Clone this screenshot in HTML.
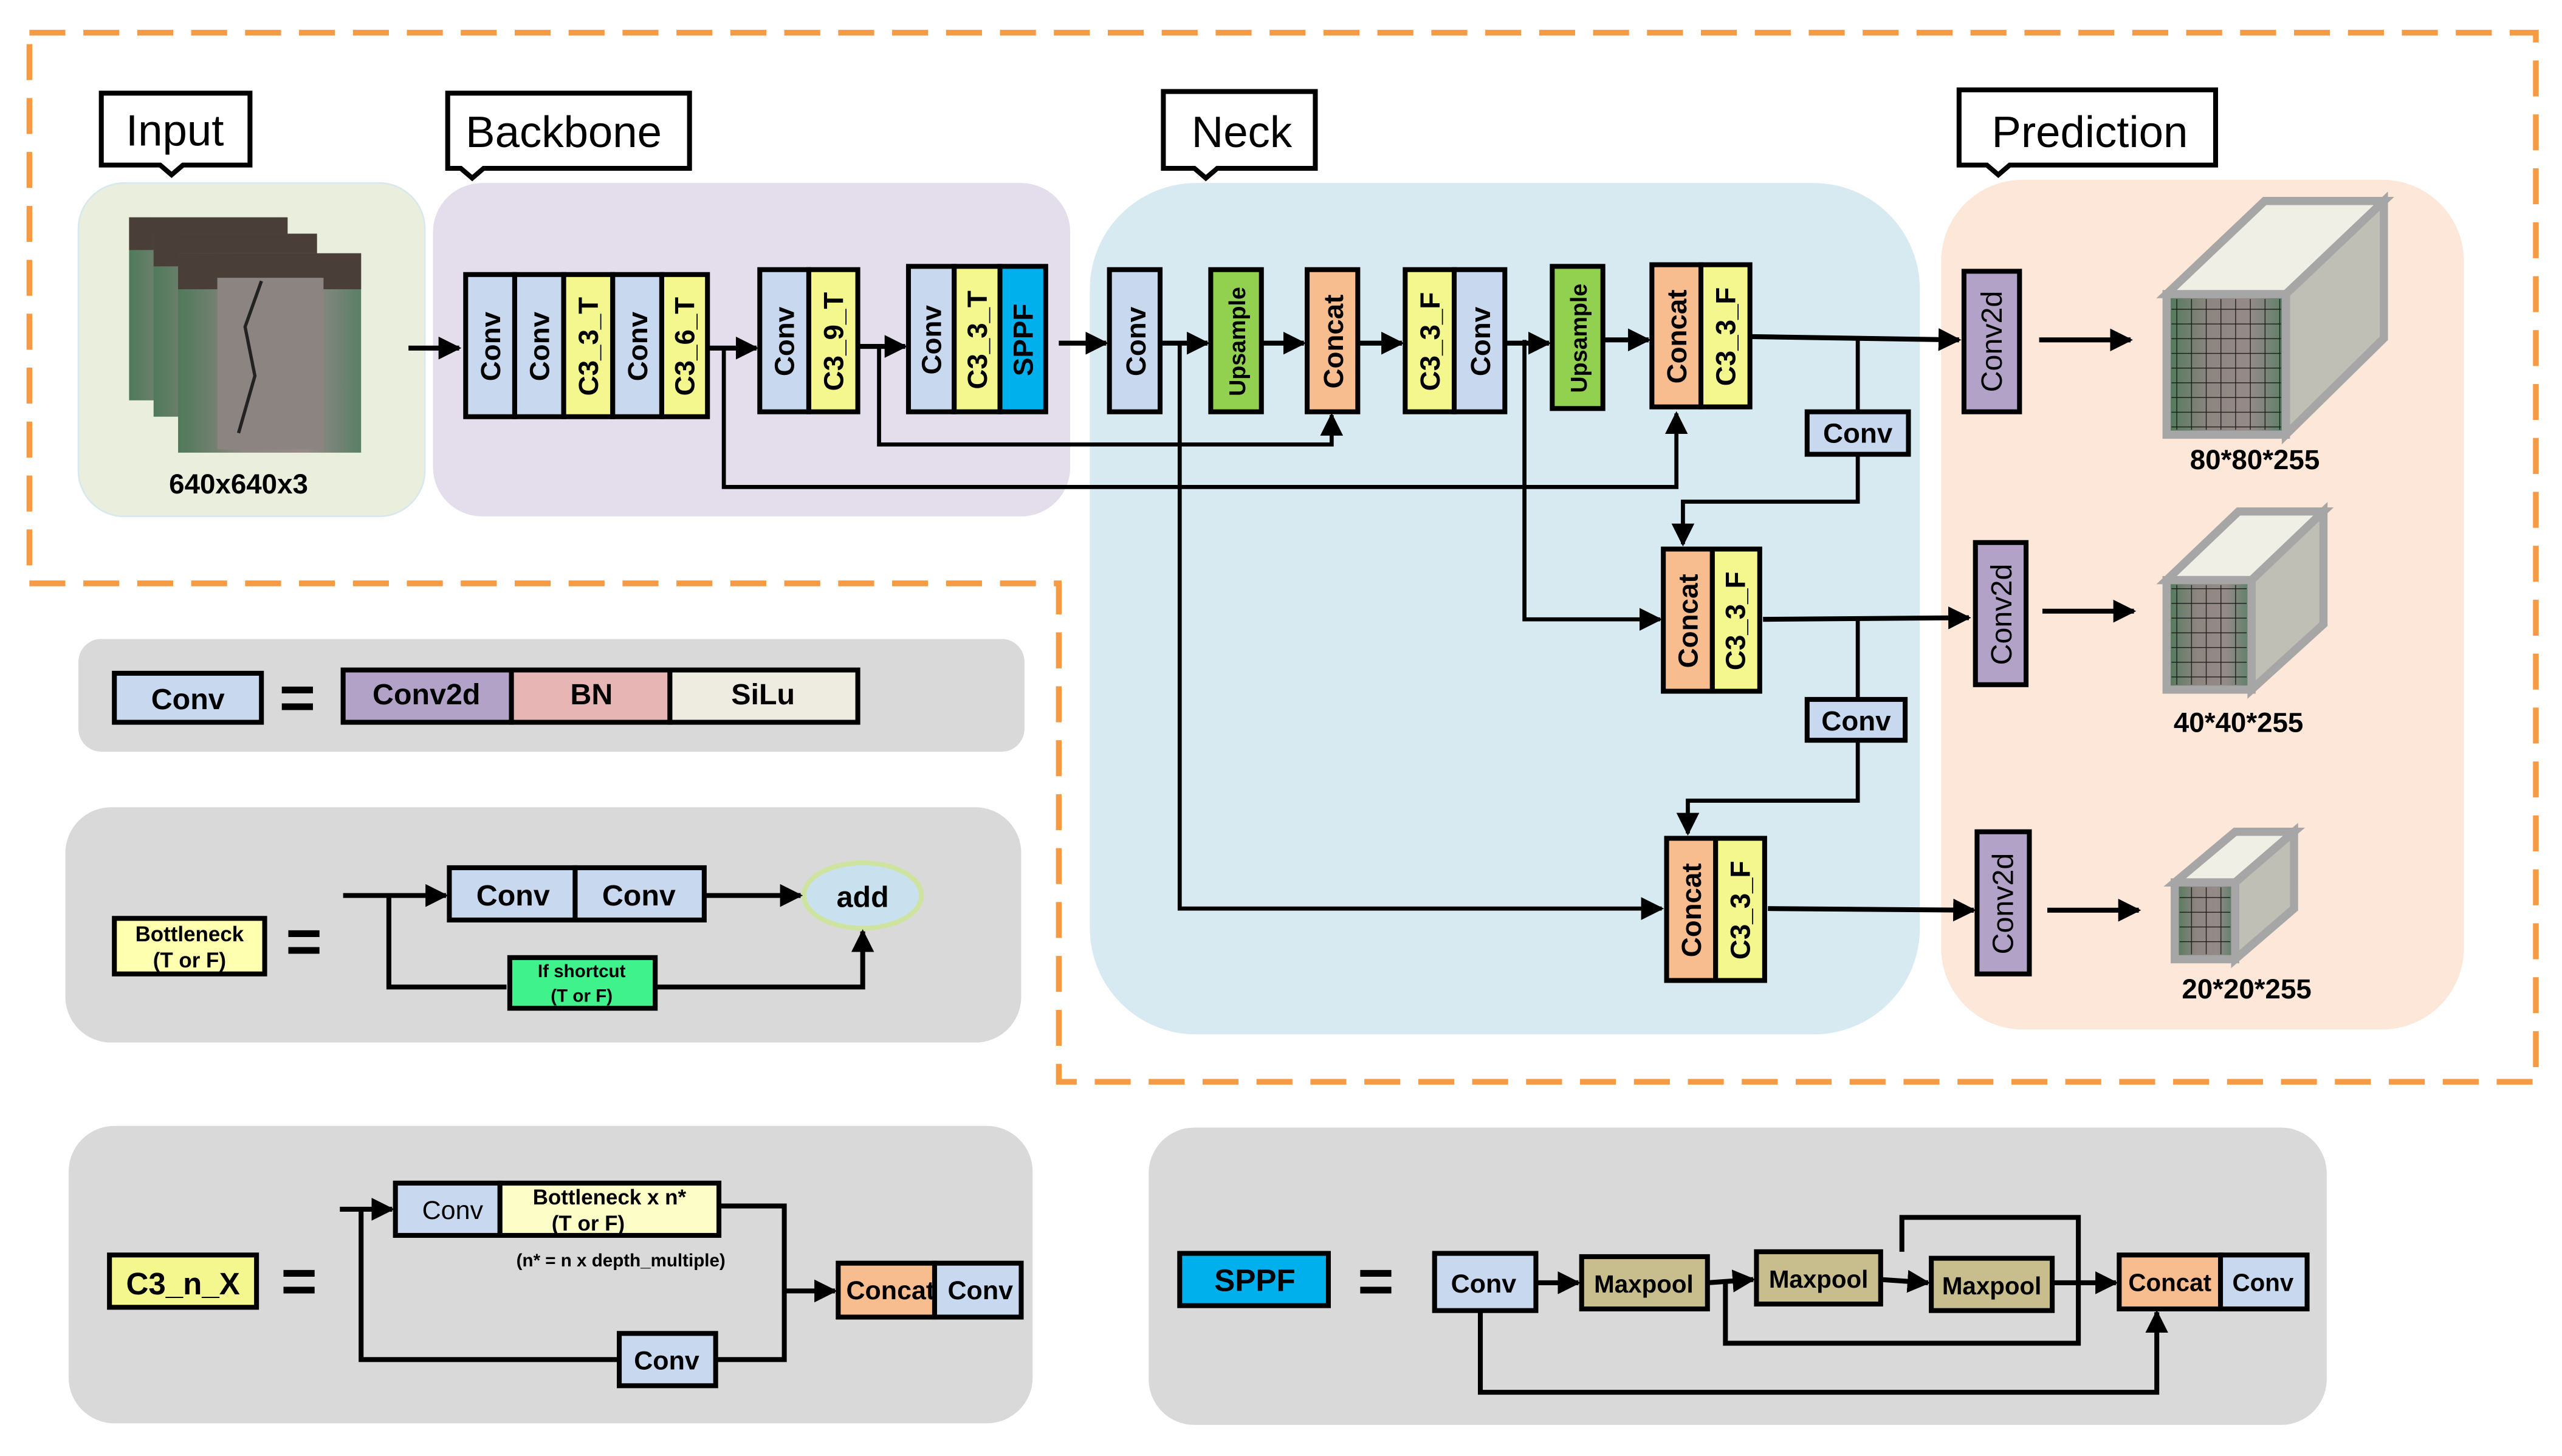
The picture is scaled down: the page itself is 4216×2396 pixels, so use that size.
<!DOCTYPE html>
<html><head><meta charset="utf-8"><style>
html,body{margin:0;padding:0;background:#fff;}
svg{display:block;}
text{font-family:"Liberation Sans",sans-serif;font-weight:bold;fill:#000;}
</style></head><body>
<svg width="4216" height="2396" viewBox="0 0 1568 891" preserveAspectRatio="none" xmlns="http://www.w3.org/2000/svg">
<defs>
<marker id="ar" viewBox="0 0 10 10" refX="9" refY="5" markerWidth="4" markerHeight="4" orient="auto-start-reverse" markerUnits="userSpaceOnUse"><path d="M0,0 L10,5 L0,10 z" fill="#000"/></marker>
<marker id="a" viewBox="0 0 10 10" refX="9" refY="5" markerWidth="14" markerHeight="14" orient="auto" markerUnits="userSpaceOnUse"><path d="M0,0 L10,5 L0,10 z" fill="#000"/></marker>
<linearGradient id="img" x1="0" y1="0" x2="1" y2="0"><stop offset="0" stop-color="#4f7a5a"/><stop offset="0.35" stop-color="#8d8580"/><stop offset="0.7" stop-color="#958a88"/><stop offset="1" stop-color="#5a7f66"/></linearGradient>
<pattern id="grid" width="9" height="9" patternUnits="userSpaceOnUse"><path d="M0,0 V9 M0,0 H9" stroke="#000" stroke-width="1" fill="none"/></pattern>
</defs>

<!-- regions -->
<rect x="48" y="112" width="212" height="204" rx="28" fill="#e9efdc" stroke="#d8e8ee" stroke-width="1"/>
<rect x="265" y="112" width="390" height="204" rx="30" fill="#e4deec"/>
<rect x="667" y="112" width="508" height="521" rx="65" fill="#d8eaf1"/>
<rect x="1188" y="110" width="320" height="520" rx="50" fill="#fce7d8"/>

<!-- dashed orange border -->
<path d="M18,20 H1552 V662 H648 V357 H18 Z" fill="none" stroke="#f59a45" stroke-width="3.5" stroke-dasharray="22,11"/>

<!-- section labels -->
<g fill="#fff" stroke="#000" stroke-width="3">
<path d="M62,57 H153 V101 H112 L105,107 L98,101 H62 Z"/>
<path d="M274,57 H422 V103 H296 L289,109 L282,103 H274 Z"/>
<path d="M712,56 H805 V103 H745 L738,109 L731,103 H712 Z"/>
<path d="M1199,55 H1356 V101 H1230 L1223,107 L1216,101 H1199 Z"/>
</g>
<text x="107" y="89" font-size="27" font-weight="normal" text-anchor="middle" style="font-weight:normal">Input</text>
<text x="345" y="90" font-size="27" text-anchor="middle" style="font-weight:normal">Backbone</text>
<text x="760" y="90" font-size="27" text-anchor="middle" style="font-weight:normal">Neck</text>
<text x="1279" y="90" font-size="27" text-anchor="middle" style="font-weight:normal">Prediction</text>

<!-- input images -->
<rect x="79" y="133" width="97" height="112" fill="url(#img)"/><rect x="79" y="133" width="97" height="20" fill="#4a3e38"/>
<rect x="94" y="143" width="100" height="112" fill="url(#img)"/><rect x="94" y="143" width="100" height="20" fill="#4a3e38"/>
<rect x="109" y="155" width="112" height="122" fill="url(#img)"/><rect x="109" y="155" width="112" height="22" fill="#4a3e38"/>
<rect x="133" y="170" width="65" height="105" fill="#8b8480"/>
<path d="M160,172 L150,200 L156,230 L146,265" stroke="#222" stroke-width="2" fill="none"/>
<text x="146" y="302" font-size="17" text-anchor="middle">640x640x3</text>

<!-- generic arrows -->
<g stroke="#000" stroke-width="3" fill="none" marker-end="url(#a)">
<line x1="250" y1="213" x2="281" y2="213"/>
<line x1="434" y1="213" x2="463" y2="213"/>
<line x1="526" y1="212" x2="554" y2="212"/>
<line x1="648" y1="210" x2="677" y2="210"/>
<line x1="711" y1="210" x2="739" y2="210"/>
<line x1="773" y1="210" x2="798" y2="210"/>
<line x1="832" y1="210" x2="858" y2="210"/>
<line x1="922" y1="210" x2="948" y2="210"/>
<line x1="982" y1="208" x2="1009" y2="208"/>
<line x1="1072" y1="206" x2="1199" y2="208"/>
<line x1="1248" y1="208" x2="1304" y2="208"/>
<line x1="1079" y1="379" x2="1205" y2="378"/>
<line x1="1250" y1="374" x2="1306" y2="374"/>
<line x1="1082" y1="556" x2="1208" y2="557"/>
<line x1="1253" y1="557" x2="1309" y2="557"/>
</g>
<g stroke="#000" stroke-width="2.5" fill="none">
<polyline points="443,213 443,298 1026,298 1026,253" marker-end="url(#a)"/>
<polyline points="538,212 538,272 815,272 815,254" marker-end="url(#a)"/>
<polyline points="722,210 722,556 1017,556" marker-end="url(#a)"/>
<polyline points="933,208 933,379 1016,379" marker-end="url(#a)"/>
<polyline points="1137,207 1137,252"/>
<polyline points="1137,278 1137,307 1030,307 1030,333" marker-end="url(#a)"/>
<polyline points="1137,379 1137,428"/>
<polyline points="1137,453 1137,490 1033,490 1033,510" marker-end="url(#a)"/>
</g>

<!-- blocks helper: vertical text -->
<g stroke="#000" stroke-width="3">
<!-- backbone group1 -->
<rect x="285" y="168" width="30" height="87" fill="#c7d8ef"/>
<rect x="315" y="168" width="30" height="87" fill="#c7d8ef"/>
<rect x="345" y="168" width="30" height="87" fill="#f3f78e"/>
<rect x="375" y="168" width="30" height="87" fill="#c7d8ef"/>
<rect x="405" y="168" width="28" height="87" fill="#f3f78e"/>
<rect x="465" y="165" width="30" height="87" fill="#c7d8ef"/>
<rect x="495" y="165" width="30" height="87" fill="#f3f78e"/>
<rect x="556" y="163" width="28" height="89" fill="#c7d8ef"/>
<rect x="584" y="163" width="28" height="89" fill="#f3f78e"/>
<rect x="612" y="163" width="28" height="89" fill="#00b0ec"/>
<!-- neck -->
<rect x="679" y="165" width="31" height="87" fill="#c7d8ef"/>
<rect x="741" y="165" width="31" height="87" fill="#92d050"/>
<rect x="800" y="165" width="31" height="87" fill="#f8bd8f"/>
<rect x="860" y="165" width="30" height="87" fill="#f3f78e"/>
<rect x="890" y="165" width="31" height="87" fill="#c7d8ef"/>
<rect x="950" y="163" width="31" height="87" fill="#92d050"/>
<rect x="1011" y="162" width="30" height="87" fill="#f8bd8f"/>
<rect x="1041" y="162" width="30" height="87" fill="#f3f78e"/>
<rect x="1018" y="336" width="30" height="87" fill="#f8bd8f"/>
<rect x="1048" y="336" width="29" height="87" fill="#f3f78e"/>
<rect x="1020" y="513" width="30" height="87" fill="#f8bd8f"/>
<rect x="1050" y="513" width="30" height="87" fill="#f3f78e"/>
<rect x="1106" y="252" width="62" height="26" fill="#c7d8ef"/>
<rect x="1106" y="428" width="60" height="25" fill="#c7d8ef"/>
<!-- prediction -->
<rect x="1202" y="166" width="34" height="86" fill="#b3a2c8"/>
<rect x="1209" y="332" width="31" height="87" fill="#b3a2c8"/>
<rect x="1210" y="509" width="32" height="87" fill="#b3a2c8"/>
</g>
<g font-size="17">
<text transform="translate(306,212) rotate(-90)" text-anchor="middle">Conv</text>
<text transform="translate(336,212) rotate(-90)" text-anchor="middle">Conv</text>
<text transform="translate(366,212) rotate(-90)" text-anchor="middle">C3_3_T</text>
<text transform="translate(396,212) rotate(-90)" text-anchor="middle">Conv</text>
<text transform="translate(425,212) rotate(-90)" text-anchor="middle">C3_6_T</text>
<text transform="translate(486,209) rotate(-90)" text-anchor="middle">Conv</text>
<text transform="translate(516,209) rotate(-90)" text-anchor="middle">C3_9_T</text>
<text transform="translate(576,208) rotate(-90)" text-anchor="middle">Conv</text>
<text transform="translate(604,208) rotate(-90)" text-anchor="middle">C3_3_T</text>
<text transform="translate(632,208) rotate(-90)" text-anchor="middle" fill="#fff" style="fill:#000">SPPF</text>
<text transform="translate(701,209) rotate(-90)" text-anchor="middle">Conv</text>
<text transform="translate(762,209) rotate(-90)" text-anchor="middle" font-size="14">Upsample</text>
<text transform="translate(822,209) rotate(-90)" text-anchor="middle">Concat</text>
<text transform="translate(881,209) rotate(-90)" text-anchor="middle">C3_3_F</text>
<text transform="translate(912,209) rotate(-90)" text-anchor="middle">Conv</text>
<text transform="translate(971,207) rotate(-90)" text-anchor="middle" font-size="14">Upsample</text>
<text transform="translate(1032,206) rotate(-90)" text-anchor="middle">Concat</text>
<text transform="translate(1062,206) rotate(-90)" text-anchor="middle">C3_3_F</text>
<text transform="translate(1039,380) rotate(-90)" text-anchor="middle">Concat</text>
<text transform="translate(1068,380) rotate(-90)" text-anchor="middle">C3_3_F</text>
<text transform="translate(1041,557) rotate(-90)" text-anchor="middle">Concat</text>
<text transform="translate(1071,557) rotate(-90)" text-anchor="middle">C3_3_F</text>
<text transform="translate(1225,209) rotate(-90)" text-anchor="middle" style="font-weight:normal" font-size="18">Conv2d</text>
<text transform="translate(1231,376) rotate(-90)" text-anchor="middle" style="font-weight:normal" font-size="18">Conv2d</text>
<text transform="translate(1232,553) rotate(-90)" text-anchor="middle" style="font-weight:normal" font-size="18">Conv2d</text>
<text x="1137" y="271" text-anchor="middle">Conv</text>
<text x="1136" y="447" text-anchor="middle">Conv</text>
</g>

<!-- cubes -->
<g stroke="#a6a6a6" stroke-width="5" stroke-linejoin="miter">
<path d="M1326,180 L1386,123 H1459 L1399,180 Z" fill="#efefe6"/>
<path d="M1399,180 L1459,123 V207 L1399,266 Z" fill="#bfbfb5"/>
<rect x="1326" y="180" width="73" height="86" fill="url(#img)"/>
<path d="M1326,355 L1370,313 H1422 L1378,355 Z" fill="#efefe6"/>
<path d="M1378,355 L1422,313 V382 L1378,422 Z" fill="#bfbfb5"/>
<rect x="1326" y="355" width="52" height="67" fill="url(#img)"/>
<path d="M1331,540 L1368,509 H1404 L1368,540 Z" fill="#efefe6"/>
<path d="M1368,540 L1404,509 V556 L1368,587 Z" fill="#bfbfb5"/>
<rect x="1331" y="540" width="37" height="47" fill="url(#img)"/>
</g>
<rect x="1329" y="183" width="67" height="80" fill="url(#grid)" opacity="0.8"/>
<rect x="1329" y="358" width="46" height="61" fill="url(#grid)" opacity="0.8"/>
<rect x="1334" y="543" width="31" height="41" fill="url(#grid)" opacity="0.8"/>
<g font-size="17" text-anchor="middle">
<text x="1380" y="287">80*80*255</text>
<text x="1370" y="448">40*40*255</text>
<text x="1375" y="611">20*20*255</text>
</g>

<!-- legend panels -->
<rect x="48" y="391" width="579" height="69" rx="14" fill="#d9d9d9"/>
<rect x="40" y="494" width="585" height="144" rx="28" fill="#d9d9d9"/>
<rect x="42" y="689" width="590" height="182" rx="28" fill="#d9d9d9"/>
<rect x="703" y="690" width="721" height="182" rx="28" fill="#d9d9d9"/>

<g stroke="#000" stroke-width="3">
<rect x="70" y="412" width="90" height="30" fill="#c7d8ef"/>
<rect x="210" y="410" width="103" height="32" fill="#b3a2c8"/>
<rect x="313" y="410" width="97" height="32" fill="#e8b5b5"/>
<rect x="410" y="410" width="115" height="32" fill="#eeece1"/>
<rect x="70" y="562" width="92" height="34" fill="#ffffb0"/>
<rect x="275" y="531" width="77" height="32" fill="#c7d8ef"/>
<rect x="352" y="531" width="79" height="32" fill="#c7d8ef"/>
<rect x="312" y="586" width="89" height="31" fill="#3ff28c"/>
<rect x="67" y="768" width="90" height="32" fill="#f3f78e"/>
<rect x="242" y="724" width="64" height="32" fill="#c7d8ef"/>
<rect x="306" y="724" width="134" height="32" fill="#fdfdc8"/>
<rect x="379" y="816" width="59" height="32" fill="#c7d8ef"/>
<rect x="513" y="773" width="59" height="33" fill="#f8bd8f"/>
<rect x="572" y="773" width="53" height="33" fill="#c7d8ef"/>
<rect x="722" y="767" width="91" height="32" fill="#00b0ec"/>
<rect x="878" y="767" width="62" height="35" fill="#c7d8ef"/>
<rect x="968" y="769" width="77" height="32" fill="#c8bd8c"/>
<rect x="1075" y="766" width="76" height="32" fill="#c8bd8c"/>
<rect x="1182" y="770" width="74" height="32" fill="#c8bd8c"/>
<rect x="1297" y="768" width="62" height="33" fill="#f8bd8f"/>
<rect x="1359" y="768" width="53" height="33" fill="#c7d8ef"/>
</g>
<ellipse cx="528" cy="548" rx="36" ry="20" fill="#c9e0ef" stroke="#cfe3a0" stroke-width="3"/>
<g font-size="38" text-anchor="middle" style="font-weight:normal">
<text x="182" y="440">=</text><text x="186" y="589">=</text><text x="183" y="797">=</text><text x="842" y="797">=</text>
</g>
<g font-size="18" text-anchor="middle">
<text x="115" y="434">Conv</text>
<text x="261" y="431">Conv2d</text>
<text x="362" y="431">BN</text>
<text x="467" y="431">SiLu</text>
<text x="314" y="554">Conv</text>
<text x="391" y="554">Conv</text>
<text x="528" y="555">add</text>
<text x="112" y="792" font-size="19">C3_n_X</text>
<text x="768" y="790" font-size="19">SPPF</text>
<text x="908" y="791" font-size="16">Conv</text>
<text x="1006" y="791" font-size="15">Maxpool</text>
<text x="1113" y="788" font-size="15">Maxpool</text>
<text x="1219" y="792" font-size="15">Maxpool</text>
<text x="1328" y="790" font-size="15">Concat</text>
<text x="1385" y="790" font-size="15">Conv</text>
</g>
<g text-anchor="middle" style="font-weight:normal">
<text x="277" y="746" font-size="16" style="font-weight:normal">Conv</text>
<text x="373" y="737" font-size="13">Bottleneck x n*</text>
<text x="360" y="753" font-size="13">(T or F)</text>
<text x="380" y="775" font-size="11">(n* = n x depth_multiple)</text>
<text x="408" y="838" font-size="16">Conv</text>
<text x="545" y="795" font-size="16">Concat</text>
<text x="600" y="795" font-size="16">Conv</text>
<text x="116" y="576" font-size="13">Bottleneck</text>
<text x="116" y="592" font-size="13">(T or F)</text>
<text x="356" y="598" font-size="11">If shortcut</text>
<text x="356" y="613" font-size="11">(T or F)</text>
</g>
<g stroke="#000" stroke-width="3" fill="none">
<polyline points="210,548 273,548" marker-end="url(#a)"/>
<polyline points="238,548 238,604 310,604"/>
<polyline points="401,604 528,604 528,570" marker-end="url(#a)"/>
<polyline points="431,548 490,548" marker-end="url(#a)"/>
<polyline points="208,740 240,740" marker-end="url(#a)"/>
<polyline points="221,740 221,832 379,832"/>
<polyline points="440,738 480,738 480,832 438,832"/>
<polyline points="480,790 511,790" marker-end="url(#a)"/>
<polyline points="940,785 966,785" marker-end="url(#a)"/>
<polyline points="1045,785 1073,783" marker-end="url(#a)"/>
<polyline points="1151,783 1180,785" marker-end="url(#a)"/>
<polyline points="1256,785 1295,785" marker-end="url(#a)"/>
<polyline points="1164,766 1164,745 1272,745 1272,785"/>
<polyline points="1056,785 1056,822 1272,822 1272,786"/>
<polyline points="906,802 906,852 1320,852 1320,803" marker-end="url(#a)"/>
</g>
</svg>
</body></html>
